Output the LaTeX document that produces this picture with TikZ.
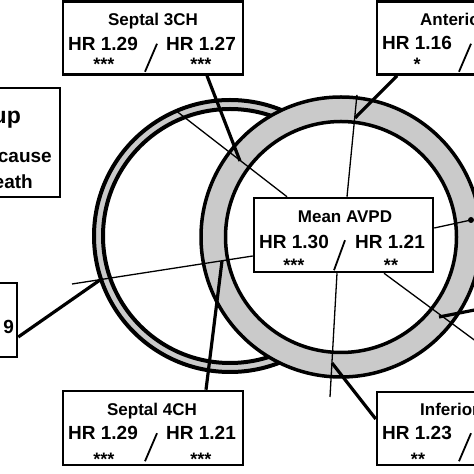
\documentclass[tikz,border=0pt]{standalone}
\usepackage{fontspec}
\setmainfont{Liberation Sans}
\usetikzlibrary{positioning,calc}
\definecolor{ringgray}{RGB}{202,202,202}

\tikzset{
  box/.style={draw, fill=white, line width=2.5pt, minimum width=180pt, minimum height=73pt, inner sep=0pt},
  title/.style={font=\fontsize{17}{20}\selectfont\bfseries, inner sep=0pt, anchor=base},
  hr/.style={font=\fontsize{19}{22}\selectfont\bfseries, inner sep=0pt, anchor=base},
  stars/.style={font=\fontsize{18}{20}\selectfont\bfseries, inner sep=0pt, anchor=north},
  slash/.style={line width=1.8pt},
  thinline/.style={line width=1.3pt},
  link/.style={line width=3.2pt},
  ring/.style={line width=3.5pt},
}

\begin{document}
\begin{tikzpicture}[x=1pt, y=1pt]
    \useasboundingbox (0,0) rectangle (474,474);
    \clip (0,0) rectangle (474,474);
    \fill[white] (0,0) rectangle (474,474);

    % rings
    \coordinate (lc) at (230,238);
    \coordinate (rc) at (341,237);
    \fill[ringgray, even odd rule] (lc) circle (136) (lc) circle (127);
    \draw[ring, line width=4pt] (lc) circle (136) (lc) circle (127);
    \fill[white] (rc) circle (116);
    \fill[ringgray, even odd rule] (rc) circle (140) (rc) circle (115.5);
    \draw[ring] (rc) circle (140) (rc) circle (115.5);

    % boxes
    \node[box] (sep3) at (153,436) {};
    \node[box] (ant) at (467,436) {};
    \node[box, minimum width=179pt, minimum height=74pt] (mean) at (343.5,239) {};
    \node[box, minimum height=74pt] (sep4) at (153,46) {};
    \node[box] (inf) at (467,45.5) {};
    \node[box, minimum height=74pt] (lft) at (-73,154) {};
    \node[box, minimum height=109pt] (outc) at (-30,331.5) {};

    % texts
    \node[title] at ([yshift=-25pt]sep3.north) {Septal 3CH};
    \node[hr] at ([xshift=-50pt,yshift=-50pt]sep3.north) {HR 1.29};
    \node[hr] at ([xshift=48pt,yshift=-50pt]sep3.north) {HR 1.27};
    \node[stars] at ([xshift=-49pt,yshift=-58pt]sep3.north) {***};
    \node[stars] at ([xshift=48pt,yshift=-58pt]sep3.north) {***};
    \draw[slash] ([xshift=-8pt,yshift=4pt]sep3.south) -- ([xshift=4pt,yshift=32pt]sep3.south);

    \node[title, anchor=base west] at ([xshift=-47pt,yshift=-25pt]ant.north) {Anterior};
    \node[hr] at ([xshift=-50pt,yshift=-49pt]ant.north) {HR 1.16};
    \node[stars] at ([xshift=-50pt,yshift=-58pt]ant.north) {*};
    \draw[slash] ([xshift=-8pt,yshift=4pt]ant.south) -- ([xshift=4pt,yshift=32pt]ant.south);

    \node[title] at ([xshift=1.5pt,yshift=-26pt]mean.north) {Mean AVPD};
    \node[hr] at ([xshift=-49.5pt,yshift=-52pt]mean.north) {HR 1.30};
    \node[hr] at ([xshift=46.5pt,yshift=-52pt]mean.north) {HR 1.21};
    \node[stars] at ([xshift=-49.5pt,yshift=-62pt]mean.north) {***};
    \node[stars] at ([xshift=47.5pt,yshift=-62pt]mean.north) {**};
    \draw[slash] ([xshift=-9.5pt,yshift=3pt]mean.south) -- ([xshift=1.5pt,yshift=33pt]mean.south);

    \node[title] at ([xshift=-1pt,yshift=-26pt]sep4.north) {Septal 4CH};
    \node[hr] at ([xshift=-50pt,yshift=-50pt]sep4.north) {HR 1.29};
    \node[hr] at ([xshift=48pt,yshift=-50pt]sep4.north) {HR 1.21};
    \node[stars] at ([xshift=-49pt,yshift=-63pt]sep4.north) {***};
    \node[stars] at ([xshift=48pt,yshift=-63pt]sep4.north) {***};
    \draw[slash] ([xshift=-8pt,yshift=5pt]sep4.south) -- ([xshift=4pt,yshift=33pt]sep4.south);

    \node[title, anchor=base west] at ([xshift=-47pt,yshift=-25pt]inf.north) {Inferior};
    \node[hr] at ([xshift=-50pt,yshift=-49pt]inf.north) {HR 1.23};
    \node[stars] at ([xshift=-49pt,yshift=-62pt]inf.north) {**};
    \draw[slash] ([xshift=-8pt,yshift=5pt]inf.south) -- ([xshift=4pt,yshift=33pt]inf.south);

    \node[hr, anchor=base east] at ([xshift=-4pt,yshift=-14pt]lft.east) {9};

    \node[hr, font=\fontsize{23}{26}\selectfont\bfseries, anchor=base east] at (21,350) {up};
    \node[hr, anchor=base east] at (52,311) {cause};
    \node[hr, anchor=base east] at (33,285) {eath};

    % segment lines
    \coordinate (a0) at ($(lc)+(113:135)$);
    \coordinate (b0) at ($(rc)+(83.6:143)$);
    \coordinate (c0) at (72,190);
    \coordinate (d1) at (330,77);
    \coordinate (f1) at (500,115);
    \coordinate (g1) at (471,254);
    \draw[thinline] (a0) -- ([xshift=-56.5pt]mean.north);
    \draw[thinline] (b0) -- ([xshift=3.5pt]mean.north);
    \draw[thinline] (c0) -- ([yshift=-21pt]mean.west);
    \draw[thinline] ([xshift=-6.5pt]mean.south) -- (d1);
    \draw[thinline] ([xshift=40.5pt]mean.south) -- (f1);
    \draw[thinline] ([yshift=7pt]mean.east) -- (g1);
    \fill (g1) circle (3pt);

    % connectors
    \coordinate (p1) at (240,313);
    \coordinate (p2) at (355,356);
    \coordinate (p3) at (100,194);
    \coordinate (p4) at (222,213);
    \coordinate (p5) at (332,111);
    \coordinate (p6) at (439,157);
    \coordinate (q6) at (500,169);
    \draw[link] ([xshift=54pt]sep3.south) -- (p1);
    \draw[link] ([xshift=-70pt]ant.south) -- (p2);
    \draw[link] ([yshift=-17pt]lft.east) -- (p3);
    \draw[link] ([xshift=53pt]sep4.north) -- (p4);
    \draw[link] ([yshift=9.5pt]inf.west) -- (p5);
    \draw[link] (q6) -- (p6);
\end{tikzpicture}
\end{document}
